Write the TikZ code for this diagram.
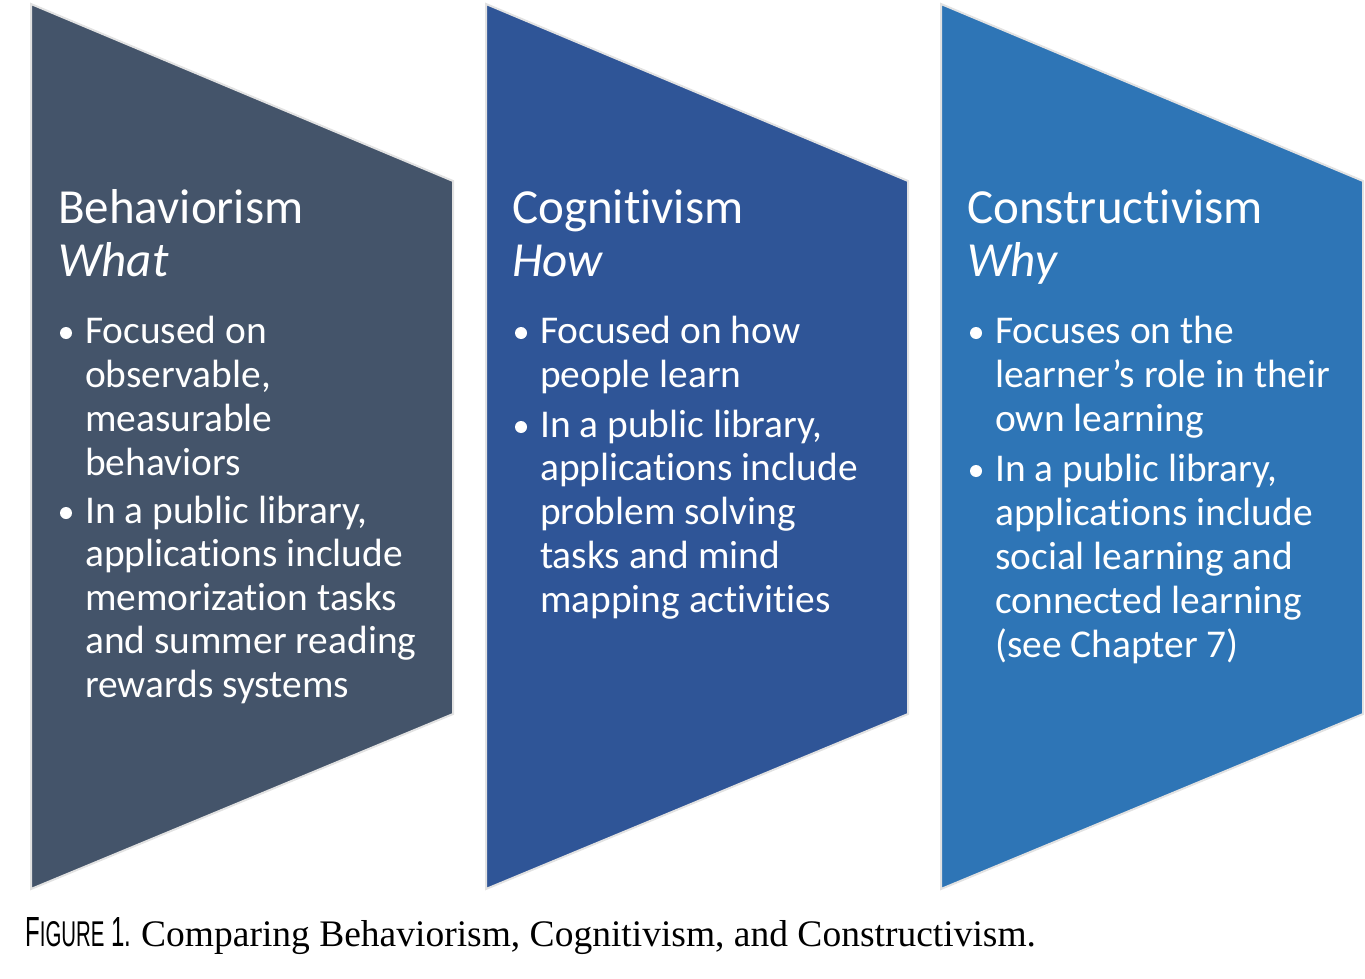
\documentclass[tikz,border=0pt]{standalone}
\usepackage{fontspec}
\usepackage{graphicx}
\setmainfont{Carlito}[Ligatures=NoCommon]
\newfontfamily\capserif{Liberation Serif}
\newfontfamily\capsans{Liberation Sans}
\definecolor{cA}{HTML}{44546A}
\definecolor{cB}{HTML}{2F5597}
\definecolor{cC}{HTML}{2E75B6}
\definecolor{edge}{HTML}{E2E2E2}
\begin{document}
\begin{tikzpicture}[x=1pt,y=-1pt,
  panel/.style={line width=2pt, draw=edge, line join=miter},
  title/.style={anchor=base west, inner sep=0pt, text=white, font=\fontsize{49}{53}\selectfont},
  bline/.style={anchor=base west, inner sep=0pt, text=white, font=\fontsize{39.4}{44}\selectfont},
  bdot/.style={circle, fill=white, inner sep=0pt, minimum size=12pt}]
\useasboundingbox (0,0) rectangle (1365,979);
% panels
\filldraw[panel, fill=cA] (31,4) -- (453,181) -- (453,714) -- (31,889) -- cycle;
\filldraw[panel, fill=cB] (486,4) -- (908,181) -- (908,714) -- (486,889) -- cycle;
\filldraw[panel, fill=cC] (941,4) -- (1363,181) -- (1363,714) -- (941,889) -- cycle;
% column 1
\node[title] (t1) at (58,223) {Behaviorism};
\node[title] (s1) at (58,276) {\itshape What};
\node[bdot] (d1a) at (66,333) {};
\foreach \t [count=\i from 0] in {Focused on,{observable,},measurable,behaviors}
  \node[bline] (l1a\i) at (85,343+44*\i) {\t};
\node[bdot] (d1b) at (66,513) {};
\foreach \t [count=\i from 0] in {{In a public library,},applications include,memorization tasks,and summer reading,rewards systems}
  \node[bline] (l1b\i) at (85,523+43.6*\i) {\t};
% column 2
\node[title] (t2) at (512,223) {Cognitivism};
\node[title] (s2) at (512,276) {\itshape How};
\node[bdot] (d2a) at (521,333) {};
\foreach \t [count=\i from 0] in {Focused on how,people learn}
  \node[bline] (l2a\i) at (540,343+44*\i) {\t};
\node[bdot] (d2b) at (521,427) {};
\foreach \t [count=\i from 0] in {{In a public library,},applications include,problem solving,tasks and mind,mapping activities}
  \node[bline] (l2b\i) at (540,437+43.8*\i) {\t};
% column 3
\node[title] (t3) at (967,223) {Constructivism};
\node[title] (s3) at (967,276) {\itshape Why};
\node[bdot] (d3a) at (976,333) {};
\foreach \t [count=\i from 0] in {Focuses on the,learner’s role in their,own learning}
  \node[bline] (l3a\i) at (995,343+44*\i) {\t};
\node[bdot] (d3b) at (976,471) {};
\foreach \t [count=\i from 0] in {{In a public library,},applications include,social learning and,connected learning,(see Chapter 7)}
  \node[bline] (l3b\i) at (995,481+44*\i) {\t};
% caption
\node[anchor=base west, inner sep=0pt] (cap1) at (25,946)
  {\resizebox{106pt}{29pt}{\capsans\fontsize{40}{40}\selectfont F{\fontsize{34}{34}\selectfont IGURE} 1.}};
\node[anchor=base west, inner sep=0pt] (cap2) at (141,946)
  {\capserif\fontsize{37.5}{37.5}\selectfont Comparing Behaviorism, Cognitivism, and Constructivism.};
\end{tikzpicture}
\end{document}
